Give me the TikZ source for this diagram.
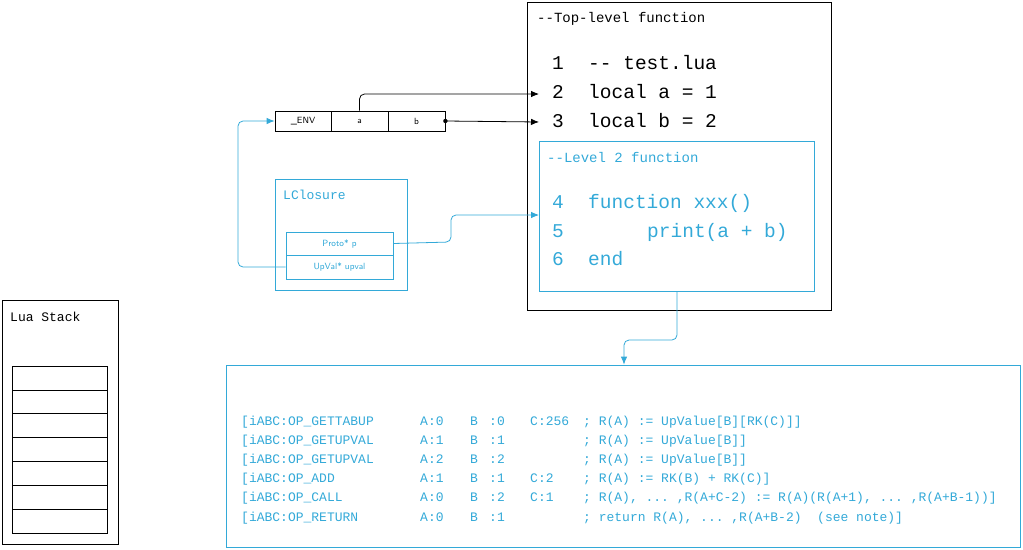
\documentclass[tikz,border=0pt]{standalone}
\usepackage{fontspec}
\setmainfont{Liberation Sans}
\setmonofont{Liberation Mono}
\usetikzlibrary{positioning, arrows.meta}
\definecolor{luacyan}{HTML}{33A9D8}

\begin{document}
\begin{tikzpicture}[x=1pt, y=-1pt,
        box/.style={draw, line width=0.8pt, inner sep=0pt},
        code/.style={anchor=base west, inner sep=0pt, font=\fontsize{19.5}{20}\ttfamily},
        title/.style={anchor=base west, inner sep=0pt, font=\fontsize{14}{15}\ttfamily},
        small/.style={font=\fontsize{9}{10}\sffamily, inner sep=0pt},
        op/.style={anchor=base west, inner sep=0pt, text=luacyan, font=\fontsize{13}{14}\ttfamily},
        link/.style={-{Latex[length=8pt, width=6.5pt]}, line width=0.8pt, rounded corners=5pt}]
      \useasboundingbox (0,0) rectangle (1023,549);
      % Top-level function
      \draw[box] (527,2) rectangle (831,310);
      \node[title] (toptitle) at (537,22) {--Top-level function};
      \node[code] (n1) at (552,69) {1};
      \node[code] (l1) at (588,69) {-- test.lua};
      \node[code] (n2) at (552,98) {2};
      \node[code] (l2) at (588,98) {local a = 1};
      \node[code] (n3) at (552,127) {3};
      \node[code] (l3) at (588,127) {local b = 2};
      \coordinate (in2) at (539,94);
      \coordinate (in3) at (539,122);

      % Level 2 function
      \draw[box, luacyan] (539,141) rectangle (814,291);
      \node[title, text=luacyan] (lvtitle) at (547,162) {--Level 2 function};
      \node[code, text=luacyan] (n4) at (552,208) {4};
      \node[code, text=luacyan] (l4) at (588,208) {function xxx()};
      \node[code, text=luacyan] (n5) at (552,237) {5};
      \node[code, text=luacyan] (l5) at (647,237) {print(a + b)};
      \node[code, text=luacyan] (n6) at (552,265) {6};
      \node[code, text=luacyan] (l6) at (588,265) {end};
      \coordinate (lvin) at (539,215);
      \coordinate (lvout) at (677,291);

      % Upvalue array
      \node[box, minimum width=56, minimum height=20, small] (env) at (303,121) {\_ENV};
      \node[box, minimum width=57, minimum height=20, small] (upa) at (359.5,121) {a};
      \node[box, minimum width=57, minimum height=20, small] (upb) at (416.5,121) {b};
      \draw[link] (upa.north) |- (in2);
      \draw[link] (upb.east) -- (in3);
      \fill (upb.east) circle (2.2);

      % LClosure
      \draw[box, luacyan] (275,179) rectangle (407,290);
      \node[title, text=luacyan, font=\fontsize{13}{14}\ttfamily] (cltitle) at (283,199) {LClosure};
      \node[box, luacyan, minimum width=107, minimum height=23, small, text=luacyan] (proto) at (339.5,243.5) {Proto* p};
      \node[box, luacyan, minimum width=107, minimum height=24, small, text=luacyan] (upval) at (339.5,267) {UpVal* upval};
      \draw[link, luacyan] (proto.east) -- (451,242) |- (lvin);
      \draw[link, luacyan] (upval.west) -- (238,267) |- (env.west);

      % Lua Stack
      \draw[box] (2,300) rectangle (118,544);
      \node[title, font=\fontsize{13}{14}\ttfamily] (stacktitle) at (10,321) {Lua Stack};
      \foreach \i in {0,...,6}
        \node[box, minimum width=95, minimum height=23.9] (slot\i) at (59.5,378+23.9*\i) {};

      % Bytecode listing
      \node[box, luacyan, minimum width=794, minimum height=182] (listing) at (623,456) {};
      \draw[link, luacyan] (lvout) -- (677,340) -| (listing.north -| 624,0);
      \foreach \y/\o/\a/\b/\c/\cm in {
          425/GETTABUP/0/0/C:256/{R(A) := UpValue[B][RK(C)]]},
          444/GETUPVAL/1/1//{R(A) := UpValue[B]]},
          463/GETUPVAL/2/2//{R(A) := UpValue[B]]},
          482/ADD/1/1/C:2/{R(A) := RK(B) + RK(C)]},
          501/CALL/0/2/C:1/{R(A), ... ,R(A+C-2) := R(A)(R(A+1), ... ,R(A+B-1))]},
          521/RETURN/0/1//{return R(A), ... ,R(A+B-2) \ (see note)]}} {
        \node[op] at (241,\y) {[iABC:OP\_\o};
        \node[op] at (420,\y) {A:\a};
        \node[op] at (470,\y) {B};
        \node[op] at (489,\y) {:\b};
        \node[op] at (530,\y) {\c};
        \node[op] at (583,\y) {; \cm};
      }
    \end{tikzpicture}
\end{document}
